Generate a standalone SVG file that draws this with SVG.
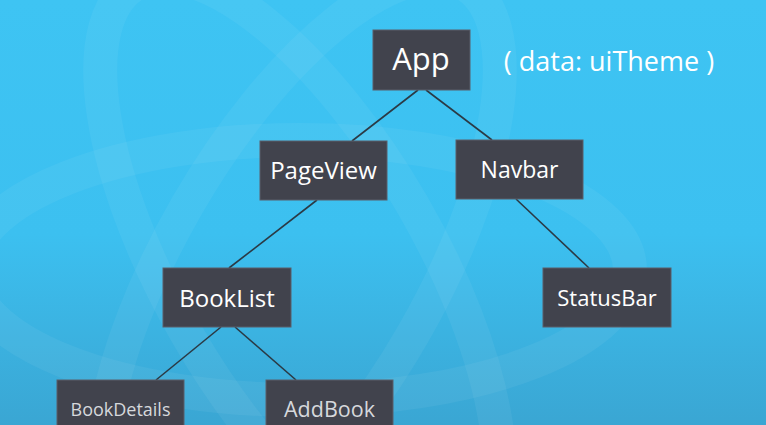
<svg xmlns="http://www.w3.org/2000/svg" width="766" height="425" viewBox="0 0 766 425">
<defs>
<linearGradient id="bg" x1="0" y1="0" x2="0" y2="1">
<stop offset="0" stop-color="#3ec4f3"/>
<stop offset="0.55" stop-color="#3cc0f0"/>
<stop offset="1" stop-color="#3aa6d3"/>
</linearGradient>
<style>
.box{fill:#41434d;stroke:#5a5f6a;stroke-width:1}
.lbl{font-family:"Open Sans","Noto Sans",sans-serif;fill:#ffffff;text-anchor:middle}
.dim{fill:#d6d8dc}
.edge{stroke:#2b3a45;stroke-width:1.6;fill:none}
.orbit{fill:none;stroke:#ffffff;stroke-opacity:0.05;stroke-width:34}
</style>
</defs>
<rect width="766" height="425" fill="url(#bg)"/>
<g id="background-logo">
<ellipse class="orbit" cx="300" cy="270" rx="330" ry="130"/>
<ellipse class="orbit" cx="300" cy="270" rx="330" ry="130" transform="rotate(60 300 270)"/>
<ellipse class="orbit" cx="300" cy="270" rx="330" ry="130" transform="rotate(-60 300 270)"/>
</g>
<g id="connectors">
<line class="edge" x1="418" y1="90" x2="352" y2="141"/>
<line class="edge" x1="426" y1="90" x2="492" y2="140"/>
<line class="edge" x1="317" y1="200" x2="229" y2="268"/>
<line class="edge" x1="516" y1="199" x2="589" y2="268"/>
<line class="edge" x1="221" y1="327" x2="156" y2="380"/>
<line class="edge" x1="235" y1="327" x2="296" y2="380"/>
</g>
<g id="App">
<rect class="box" x="373" y="30" width="97" height="60"/>
<text class="lbl" x="421" y="70" font-size="31">App</text>
</g>
<text class="lbl" x="609" y="71" font-size="27">( data: uiTheme )</text>
<g id="PageView">
<rect class="box" x="260" y="141" width="127" height="59"/>
<text class="lbl" x="323.5" y="179" font-size="24">PageView</text>
</g>
<g id="Navbar">
<rect class="box" x="456" y="140" width="127" height="59"/>
<text class="lbl" x="519.5" y="178" font-size="23">Navbar</text>
</g>
<g id="BookList">
<rect class="box" x="163" y="268" width="128" height="59"/>
<text class="lbl" x="227" y="307" font-size="24">BookList</text>
</g>
<g id="StatusBar">
<rect class="box" x="543" y="268" width="128" height="59"/>
<text class="lbl" x="607" y="306" font-size="22">StatusBar</text>
</g>
<g id="BookDetails">
<rect class="box" x="57" y="380" width="127" height="60"/>
<text class="lbl dim" x="120.5" y="416" font-size="18">BookDetails</text>
</g>
<g id="AddBook">
<rect class="box" x="266" y="380" width="127" height="60"/>
<text class="lbl dim" x="329.5" y="417" font-size="21.5">AddBook</text>
</g>
</svg>
